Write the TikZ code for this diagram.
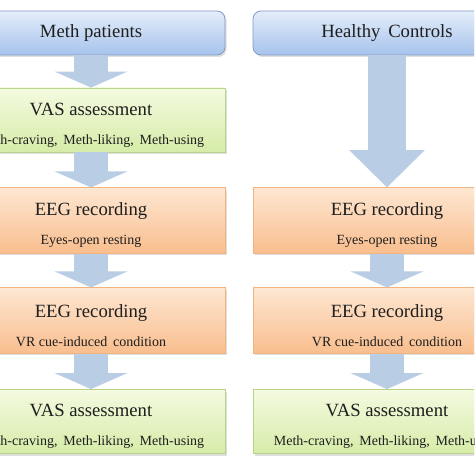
\documentclass[tikz,border=0pt]{standalone}
\usepackage{fontspec}
\setmainfont{Liberation Serif}
\usetikzlibrary{arrows.meta,shadows}

\newcommand{\boxlines}[2]{\rule{0pt}{17pt}#1\\{\fontsize{10.5}{12}\selectfont #2}}

\begin{document}
\begin{tikzpicture}[x=0.75pt, y=-0.75pt,
    font=\fontsize{14}{22}\selectfont,
    flowbox/.style={draw=#1, line width=0.6pt, minimum width=201pt,
      inner sep=0pt, align=center, text=textdark,
      drop shadow={shadow xshift=1.2pt, shadow yshift=-1.5pt, opacity=0.25}},
    groupbox/.style={flowbox=blueedge, minimum height=33pt, rounded corners=6pt,
      top color=bluetop, bottom color=bluebot},
    vasbox/.style={flowbox=greenedge, minimum height=48pt,
      top color=greentop, bottom color=greenbot},
    eegbox/.style={flowbox=orangeedge, minimum height=49pt,
      top color=orangetop, bottom color=orangebot},
    flowarrow/.style={draw=arrowblue, line width=25.5pt,
      -{Triangle[width=54pt, length=12pt, fill=arrowblue]}}
  ]
    \definecolor{textdark}{RGB}{30,30,30}
    \definecolor{bluetop}{RGB}{228,237,250}
    \definecolor{bluebot}{RGB}{166,195,236}
    \definecolor{blueedge}{RGB}{130,155,195}
    \definecolor{greentop}{RGB}{244,250,224}
    \definecolor{greenbot}{RGB}{214,236,168}
    \definecolor{greenedge}{RGB}{185,210,140}
    \definecolor{orangetop}{RGB}{253,231,210}
    \definecolor{orangebot}{RGB}{249,190,142}
    \definecolor{orangeedge}{RGB}{240,180,130}
    \definecolor{arrowblue}{RGB}{185,205,229}

    \useasboundingbox (0,0) rectangle (474,474);
    \clip (0,0) rectangle (474,474);
    \fill[white] (0,0) rectangle (474,474);

    % left column
    \node[groupbox] (meth) at (91,33) {Meth patients};
    \node[vasbox] (vasA) at (91,120) {\boxlines{VAS assessment}{Meth-craving,\, Meth-liking,\, Meth-using}};
    \node[eegbox] (eegA) at (91,220.5) {\boxlines{EEG recording}{Eyes-open resting}};
    \node[eegbox] (cueA) at (91,320.5) {\boxlines{EEG recording}{VR cue-induced\, condition}};
    \node[vasbox] (vasB) at (91,421.5) {\boxlines{VAS assessment}{Meth-craving,\, Meth-liking,\, Meth-using}};

    % right column
    \node[groupbox] (ctrl) at (387,33) {Healthy\, Controls};
    \node[eegbox] (eegC) at (387,220.5) {\boxlines{EEG recording}{Eyes-open resting}};
    \node[eegbox] (cueC) at (387,320.5) {\boxlines{EEG recording}{VR cue-induced\, condition}};
    \node[vasbox] (vasC) at (387,421.5) {\boxlines{VAS assessment}{Meth-craving,\, Meth-liking,\, Meth-using}};

    \draw[flowarrow] (meth.south) -- (vasA.north);
    \draw[flowarrow] (vasA.south) -- (eegA.north);
    \draw[flowarrow] (eegA.south) -- (cueA.north);
    \draw[flowarrow] (cueA.south) -- (vasB.north);

    \draw[flowarrow, line width=28.5pt,
      -{Triangle[width=55pt, length=28pt, fill=arrowblue]}] (ctrl.south) -- (eegC.north);
    \draw[flowarrow] (eegC.south) -- (cueC.north);
    \draw[flowarrow] (cueC.south) -- (vasC.north);
  \end{tikzpicture}
\end{document}
